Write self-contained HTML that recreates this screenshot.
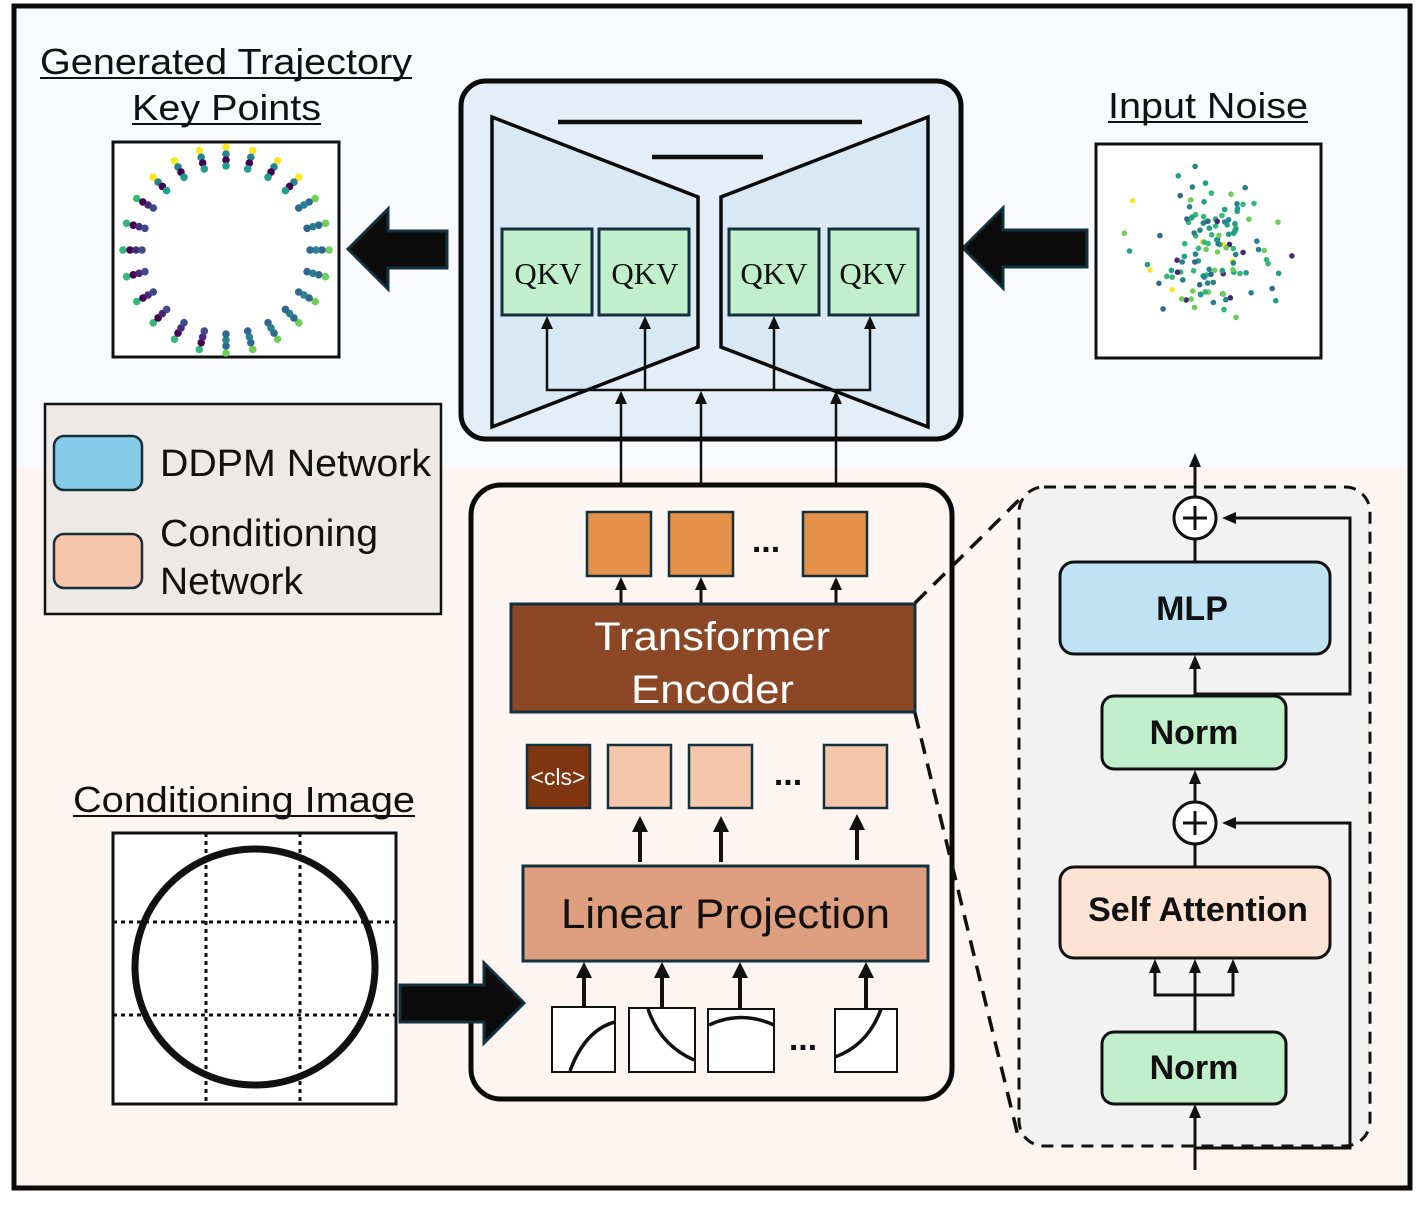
<!DOCTYPE html>
<html><head><meta charset="utf-8"><style>
html,body{margin:0;padding:0;background:#fff}
svg{display:block}
text{font-family:"Liberation Sans",sans-serif}
</style></head><body>
<svg id="s" width="1421" height="1214" viewBox="0 0 1421 1214" xmlns="http://www.w3.org/2000/svg">
<rect x="0" y="0" width="1421" height="1214" fill="#fff"/>
<rect x="14" y="6" width="1396" height="462" fill="#f8fafd"/>
<rect x="14" y="468" width="1396" height="720" fill="#fdf5f2"/>
<rect x="14" y="6" width="1396" height="1182" fill="none" stroke="#0b0b0b" stroke-width="5"/>

<!-- titles -->
<g font-size="36" fill="#111">
<text x="40" y="74" textLength="372" lengthAdjust="spacingAndGlyphs">Generated Trajectory</text>
<text x="132" y="120" textLength="189" lengthAdjust="spacingAndGlyphs">Key Points</text>
<text x="1108" y="118" textLength="200" lengthAdjust="spacingAndGlyphs">Input Noise</text>
<text x="73" y="812" textLength="342" lengthAdjust="spacingAndGlyphs">Conditioning Image</text>
</g>
<g stroke="#111" stroke-width="2">
<line x1="40" y1="78" x2="412" y2="78"/><line x1="132" y1="124" x2="321" y2="124"/>
<line x1="1108" y1="122" x2="1308" y2="122"/><line x1="73" y1="816" x2="415" y2="816"/>
</g>

<!-- trajectory box -->
<rect x="113" y="142" width="226" height="215" fill="#fff" stroke="#111" stroke-width="3"/>
<g id="traj"></g>
<!-- noise box -->
<rect x="1096" y="144" width="225" height="214" fill="#fff" stroke="#111" stroke-width="3"/>
<g id="noise"></g>

<!-- big arrows -->
<polygon points="348,249 388,209 388,231 447,231 447,268 388,268 388,289" fill="#0b0b0b" stroke="#12303f" stroke-width="3"/>
<polygon points="963,248 1003,208 1003,230 1087,230 1087,267 1003,267 1003,288" fill="#0b0b0b" stroke="#12303f" stroke-width="3"/>

<!-- DDPM block -->
<rect x="461" y="81" width="500" height="358" rx="25" fill="#e3eef8" stroke="#0b0b0b" stroke-width="5"/>
<polygon points="492,117 698,197 698,347 492,427" fill="#d8e8f5" stroke="#0b0b0b" stroke-width="3.5"/>
<polygon points="928,117 721,197 721,347 928,427" fill="#d8e8f5" stroke="#0b0b0b" stroke-width="3.5"/>
<line x1="558" y1="122" x2="862" y2="122" stroke="#111" stroke-width="4.5"/>
<line x1="652" y1="157" x2="763" y2="157" stroke="#111" stroke-width="4.5"/>
<g fill="#c1eecb" stroke="#13303d" stroke-width="3">
<rect x="502" y="229" width="90" height="86"/><rect x="599" y="229" width="90" height="86"/>
<rect x="729" y="229" width="90" height="86"/><rect x="829" y="229" width="89" height="86"/>
</g>
<g font-size="31" fill="#111" text-anchor="middle">
<text x="548" y="284" style="font-family:'Liberation Serif',serif">QKV</text>
<text x="645" y="284" style="font-family:'Liberation Serif',serif">QKV</text>
<text x="774" y="284" style="font-family:'Liberation Serif',serif">QKV</text>
<text x="873" y="284" style="font-family:'Liberation Serif',serif">QKV</text>
</g>
<g stroke="#111" stroke-width="2.5" fill="none">
<polyline points="547,328 547,390 870,390 870,328"/>
<line x1="645" y1="328" x2="645" y2="390"/><line x1="774" y1="328" x2="774" y2="390"/>
<line x1="621" y1="512" x2="621" y2="403"/><line x1="701" y1="512" x2="701" y2="403"/><line x1="836" y1="512" x2="836" y2="403"/>
</g>
<g fill="#111">
<polygon points="547,316 541,329 553,329"/><polygon points="645,316 639,329 651,329"/>
<polygon points="774,316 768,329 780,329"/><polygon points="870,316 864,329 876,329"/>
<polygon points="621,391 615,404 627,404"/><polygon points="701,391 695,404 707,404"/><polygon points="836,391 830,404 842,404"/>
</g>

<!-- legend -->
<rect x="45" y="404" width="396" height="210" fill="#ece9e6" stroke="#111" stroke-width="2.5"/>
<rect x="54" y="436" width="88" height="54" rx="10" fill="#86cbe9" stroke="#1a2e3a" stroke-width="2.5"/>
<rect x="54" y="534" width="88" height="54" rx="10" fill="#f5c6aa" stroke="#1a2e3a" stroke-width="2.5"/>
<g font-size="38" fill="#111">
<text x="160" y="476" textLength="271" lengthAdjust="spacingAndGlyphs">DDPM Network</text>
<text x="160" y="546" textLength="218" lengthAdjust="spacingAndGlyphs">Conditioning</text>
<text x="160" y="594" textLength="143" lengthAdjust="spacingAndGlyphs">Network</text>
</g>

<!-- conditioning block -->
<rect x="471" y="485" width="481" height="614" rx="30" fill="#fdf5f2" stroke="#0b0b0b" stroke-width="5"/>
<polygon points="524,1003 484,963 484,985 400,985 400,1022 484,1022 484,1043" fill="#0b0b0b" stroke="#12303f" stroke-width="3"/>
<g fill="#e6914a" stroke="#13303d" stroke-width="2.5">
<rect x="587" y="512" width="64" height="64"/><rect x="669" y="512" width="64" height="64"/><rect x="803" y="512" width="64" height="64"/>
</g>
<text x="766" y="552" font-size="34" font-weight="bold" text-anchor="middle" fill="#111">...</text>
<g stroke="#111" stroke-width="3"><line x1="621" y1="603" x2="621" y2="588"/><line x1="701" y1="603" x2="701" y2="588"/><line x1="836" y1="603" x2="836" y2="588"/></g>
<g fill="#111"><polygon points="621,577 615,590 627,590"/><polygon points="701,577 695,590 707,590"/><polygon points="836,577 830,590 842,590"/></g>
<rect x="511" y="604" width="404" height="108" fill="#8b4726" stroke="#13303d" stroke-width="3"/>
<text x="594" y="650" font-size="40" fill="#fff" textLength="236" lengthAdjust="spacingAndGlyphs">Transformer</text>
<text x="631" y="703" font-size="40" fill="#fff" textLength="163" lengthAdjust="spacingAndGlyphs">Encoder</text>

<rect x="527" y="745" width="63" height="63" fill="#7f3510" stroke="#13303d" stroke-width="2.5"/>
<text x="558" y="785" font-size="23" fill="#fff" text-anchor="middle">&lt;cls&gt;</text>
<g fill="#f5c6aa" stroke="#13303d" stroke-width="2.5">
<rect x="608" y="745" width="63" height="63"/><rect x="689" y="745" width="63" height="63"/><rect x="824" y="745" width="63" height="63"/>
</g>
<text x="788" y="785" font-size="34" font-weight="bold" text-anchor="middle" fill="#111">...</text>
<g stroke="#111" stroke-width="4"><line x1="640" y1="862" x2="640" y2="830"/><line x1="721" y1="862" x2="721" y2="830"/><line x1="857" y1="860" x2="857" y2="830"/></g>
<g fill="#111"><polygon points="640,816 632,832 648,832"/><polygon points="721,816 713,832 729,832"/><polygon points="857,814 849,830 865,830"/></g>
<rect x="523" y="866" width="405" height="95" fill="#dd9f80" stroke="#13303d" stroke-width="3"/>
<text x="561" y="928" font-size="42" fill="#111" textLength="329" lengthAdjust="spacingAndGlyphs">Linear Projection</text>
<g stroke="#111" stroke-width="4"><line x1="584" y1="1008" x2="584" y2="976"/><line x1="662" y1="1008" x2="662" y2="976"/><line x1="740" y1="1008" x2="740" y2="976"/><line x1="866" y1="1008" x2="866" y2="976"/></g>
<g fill="#111"><polygon points="584,962 576,978 592,978"/><polygon points="662,962 654,978 670,978"/><polygon points="740,962 732,978 748,978"/><polygon points="866,962 858,978 874,978"/></g>
<g fill="#fff" stroke="#111" stroke-width="2">
<rect x="552" y="1007" width="63" height="65"/><rect x="629" y="1008" width="66" height="64"/><rect x="708" y="1009" width="66" height="63"/><rect x="835" y="1009" width="62" height="63"/>
</g>
<g fill="none" stroke="#111" stroke-width="3.5">
<path d="M570,1071 Q585,1030 615,1022"/>
<path d="M648,1009 Q660,1045 694,1060"/>
<path d="M709,1025 Q741,1010 774,1025"/>
<path d="M835,1057 Q868,1045 881,1009"/>
</g>
<text x="803" y="1050" font-size="34" font-weight="bold" text-anchor="middle" fill="#111">...</text>

<!-- conditioning image -->
<rect x="113" y="833" width="283" height="271" fill="#fff" stroke="#111" stroke-width="3"/>
<g stroke="#111" stroke-width="3" stroke-dasharray="4,4">
<line x1="206" y1="833" x2="206" y2="1104"/><line x1="300" y1="833" x2="300" y2="1104"/>
<line x1="113" y1="922" x2="396" y2="922"/><line x1="113" y1="1015" x2="396" y2="1015"/>
</g>
<ellipse cx="255" cy="967" rx="120" ry="118" fill="none" stroke="#111" stroke-width="7"/>

<!-- right panel -->
<rect x="1019" y="487" width="351" height="659" rx="25" fill="#f2f2f2" stroke="#111" stroke-width="3" stroke-dasharray="12,8"/>
<g stroke="#111" stroke-width="3.5" stroke-dasharray="16,10" fill="none">
<line x1="915" y1="603" x2="1019" y2="500"/><line x1="915" y1="713" x2="1019" y2="1140"/>
</g>
<g stroke="#111" stroke-width="3" fill="none">
<line x1="1195" y1="1170" x2="1195" y2="1117"/>
<line x1="1195" y1="1032" x2="1195" y2="970"/>
<polyline points="1155,972 1155,995 1233,995 1233,972"/>
<line x1="1195" y1="867" x2="1195" y2="844"/>
<line x1="1195" y1="802" x2="1195" y2="782"/>
<line x1="1195" y1="696" x2="1195" y2="668"/>
<line x1="1195" y1="562" x2="1195" y2="539"/>
<line x1="1195" y1="497" x2="1195" y2="466"/>
<polyline points="1195,1148 1350,1148 1350,823 1235,823"/>
<polyline points="1195,694 1350,694 1350,518 1235,518"/>
</g>
<g fill="#111">
<polygon points="1195,1104 1189,1118 1201,1118"/>
<polygon points="1155,959 1149,973 1161,973"/><polygon points="1195,959 1189,973 1201,973"/><polygon points="1233,959 1227,973 1239,973"/>
<polygon points="1195,770 1189,784 1201,784"/>
<polygon points="1195,655 1189,669 1201,669"/>
<polygon points="1195,453 1189,467 1201,467"/>
<polygon points="1222,823 1236,817 1236,829"/>
<polygon points="1222,518 1236,512 1236,524"/>
</g>
<g fill="#fff" stroke="#111" stroke-width="3">
<circle cx="1195" cy="518" r="21"/><circle cx="1195" cy="823" r="21"/>
</g>
<g stroke="#111" stroke-width="3">
<line x1="1183" y1="518" x2="1207" y2="518"/><line x1="1195" y1="506" x2="1195" y2="530"/>
<line x1="1183" y1="823" x2="1207" y2="823"/><line x1="1195" y1="811" x2="1195" y2="835"/>
</g>
<rect x="1060" y="562" width="270" height="92" rx="14" fill="#c0e3f3" stroke="#111" stroke-width="3"/>
<rect x="1102" y="696" width="184" height="73" rx="12" fill="#c1eecb" stroke="#111" stroke-width="3"/>
<rect x="1060" y="867" width="270" height="91" rx="14" fill="#fce3d3" stroke="#111" stroke-width="3"/>
<rect x="1102" y="1032" width="184" height="72" rx="12" fill="#c1eecb" stroke="#111" stroke-width="3"/>
<g font-weight="bold" fill="#111" text-anchor="middle">
<text x="1192" y="620" font-size="34">MLP</text>
<text x="1194" y="744" font-size="34">Norm</text>
<text x="1198" y="921" font-size="34">Self Attention</text>
<text x="1194" y="1079" font-size="34">Norm</text>
</g>
</svg>
<script>
(function(){
var NS="http://www.w3.org/2000/svg";
var vir=["#440154","#482878","#3e4989","#31688e","#26828e","#1f9e89","#35b779","#6ece58","#b5de2b","#fde725"];
function dot(g,x,y,c,r){var e=document.createElementNS(NS,"circle");e.setAttribute("cx",x.toFixed(1));e.setAttribute("cy",y.toFixed(1));e.setAttribute("r",r);e.setAttribute("fill",c);g.appendChild(e);}
var t=document.getElementById("traj");
var cx=226,cy=250;
for(var i=0;i<24;i++){
 var a=i/24*2*Math.PI; var ca=Math.cos(a), sa=Math.sin(a);
 var rs=[103,96,90,84];
 var cols;
 if(sa<-0.6) cols=[9,4,0,5];
 else if(ca>0) cols=[7,3,4,3];
 else cols=[6,0,1,2];
 for(var k=0;k<4;k++){
  dot(t,cx+ca*rs[k],cy+sa*rs[k],vir[cols[k]],3.8);
 }
}
var n=document.getElementById("noise");
var s=11;function rnd(){s=(s*16807)%2147483647;return (s-1)/2147483646;}
function g(){return (rnd()+rnd()+rnd()+rnd()-2)*1.2;}
var pal=[1,3,4,5,5,6,6,7,4,9];
for(var j=0;j<130;j++){
 var x=1212+g()*45, y=250+g()*48;
 x=Math.max(1110,Math.min(1305,x)); y=Math.max(155,Math.min(352,y));
 dot(n,x,y,vir[pal[Math.floor(rnd()*10)]],2.8);
}
})();
</script>
</body></html>
